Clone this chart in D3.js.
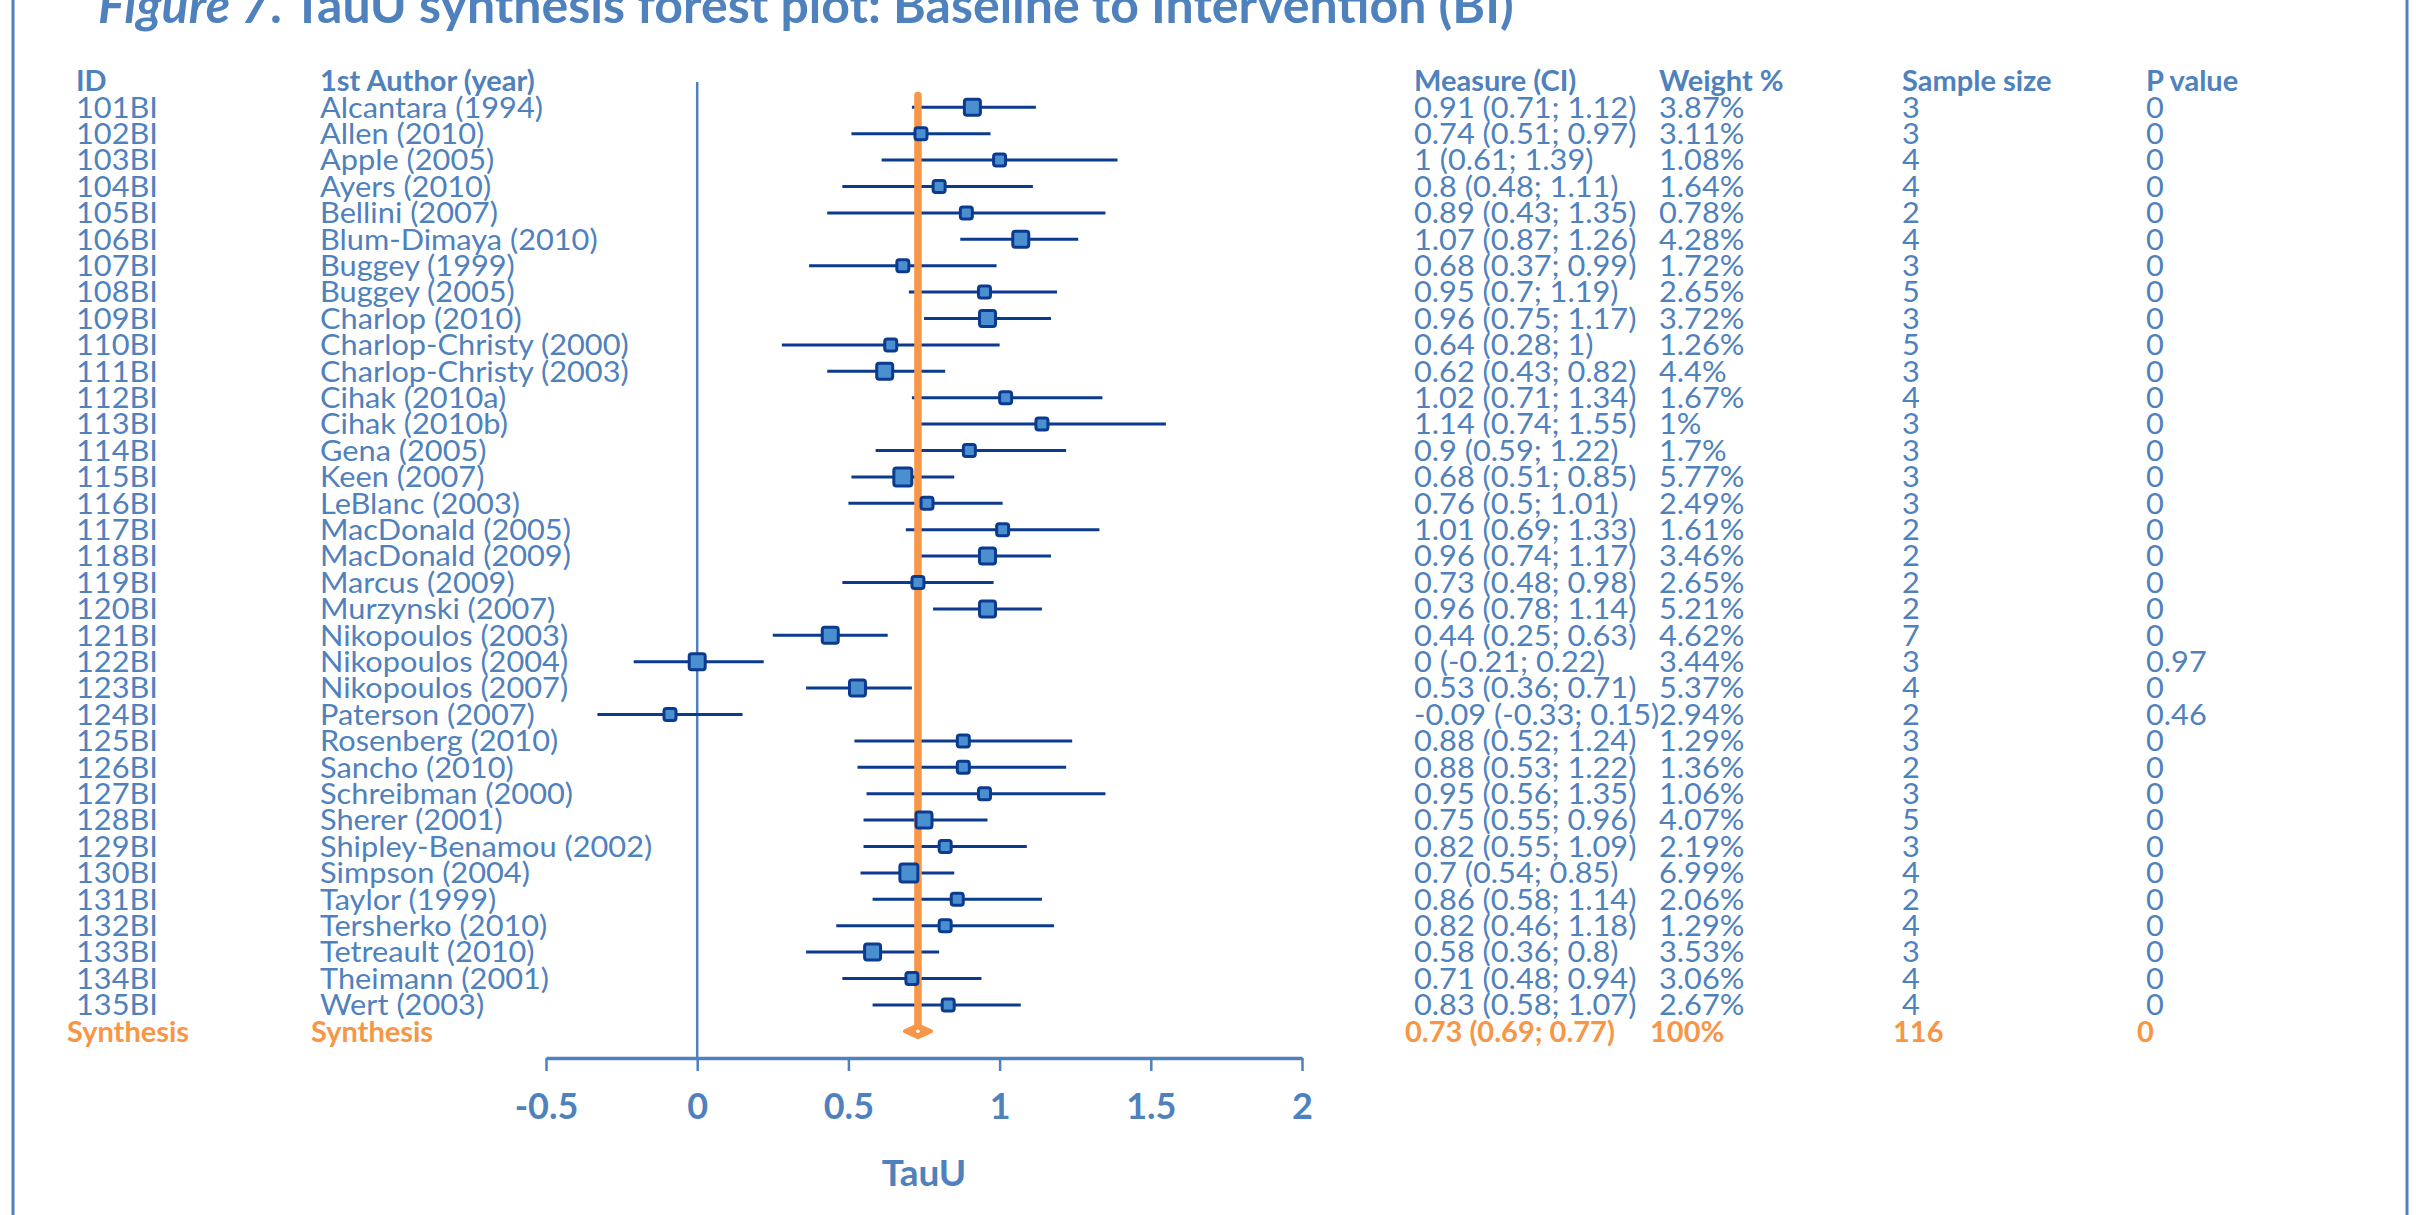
<!DOCTYPE html>
<html><head><meta charset="utf-8">
<script src="https://cdn.jsdelivr.net/npm/d3@7"></script>
<style>
html,body{margin:0;padding:0;background:#fff;}
svg{display:block;}
text{font-family:Lato,"Open Sans",sans-serif;}
</style></head>
<body>
<script>
// ---------- DATA ----------
const ids = ["101BI","102BI","103BI","104BI","105BI","106BI","107BI","108BI","109BI","110BI","111BI","112BI","113BI","114BI","115BI","116BI","117BI","118BI","119BI","120BI","121BI","122BI","123BI","124BI","125BI","126BI","127BI","128BI","129BI","130BI","131BI","132BI","133BI","134BI","135BI"];
const authors = ["Alcantara (1994)","Allen (2010)","Apple (2005)","Ayers (2010)","Bellini (2007)","Blum-Dimaya (2010)","Buggey (1999)","Buggey (2005)","Charlop (2010)","Charlop-Christy (2000)","Charlop-Christy (2003)","Cihak (2010a)","Cihak (2010b)","Gena (2005)","Keen (2007)","LeBlanc (2003)","MacDonald (2005)","MacDonald (2009)","Marcus (2009)","Murzynski (2007)","Nikopoulos (2003)","Nikopoulos (2004)","Nikopoulos (2007)","Paterson (2007)","Rosenberg (2010)","Sancho (2010)","Schreibman (2000)","Sherer (2001)","Shipley-Benamou (2002)","Simpson (2004)","Taylor (1999)","Tersherko (2010)","Tetreault (2010)","Theimann (2001)","Wert (2003)"];
const measures = [0.91,0.74,1,0.8,0.89,1.07,0.68,0.95,0.96,0.64,0.62,1.02,1.14,0.9,0.68,0.76,1.01,0.96,0.73,0.96,0.44,0,0.53,-0.09,0.88,0.88,0.95,0.75,0.82,0.7,0.86,0.82,0.58,0.71,0.83];
const lows =     [0.71,0.51,0.61,0.48,0.43,0.87,0.37,0.7,0.75,0.28,0.43,0.71,0.74,0.59,0.51,0.5,0.69,0.74,0.48,0.78,0.25,-0.21,0.36,-0.33,0.52,0.53,0.56,0.55,0.55,0.54,0.58,0.46,0.36,0.48,0.58];
const highs =    [1.12,0.97,1.39,1.11,1.35,1.26,0.99,1.19,1.17,1,0.82,1.34,1.55,1.22,0.85,1.01,1.33,1.17,0.98,1.14,0.63,0.22,0.71,0.15,1.24,1.22,1.35,0.96,1.09,0.85,1.14,1.18,0.8,0.94,1.07];
const weights =  [3.87,3.11,1.08,1.64,0.78,4.28,1.72,2.65,3.72,1.26,4.4,1.67,1,1.7,5.77,2.49,1.61,3.46,2.65,5.21,4.62,3.44,5.37,2.94,1.29,1.36,1.06,4.07,2.19,6.99,2.06,1.29,3.53,3.06,2.67];
const samples =  [3,3,4,4,2,4,3,5,3,5,3,4,3,3,3,3,2,2,2,2,7,3,4,2,3,2,3,5,3,4,2,4,3,4,4];
const pvalues =  [0,0,0,0,0,0,0,0,0,0,0,0,0,0,0,0,0,0,0,0,0,0.97,0,0.46,0,0,0,0,0,0,0,0,0,0,0];
const headers = ["ID","1st Author (year)","Measure (CI)","Weight %","Sample size","P value"];
const synthLabel = "Synthesis";
const synthMeasure = 0.73, synthLow = 0.69, synthHigh = 0.77, synthWeight = 100, synthSample = 116, synthP = 0;
const xTicks = [-0.5, 0, 0.5, 1, 1.5, 2];
const xTitle = "TauU";
const titleItalic = "Figure 7";
const titleRest = ". TauU synthesis forest plot: Baseline to Intervention (BI)";

// ---------- STYLE / LAYOUT ----------
const W = 2416, H = 1215;
const BLUE = "#4F81BD", NAVY = "#0B3A8F", FILL = "#4A90D0", ORANGE = "#F79646";
const FS = 29, SX = 1.06;
const colX = [76, 320, 1414, 1659, 1902, 2146];
const synthShift = -9;

const svg = d3.select("body").append("svg").attr("width", W).attr("height", H);

const x = d3.scaleLinear().domain([-0.5, 2]).range([546, 1302]);
const y = d3.scaleLinear().domain([0, 35]).range([107.3, 1031.3]);
const size = d3.scaleThreshold().domain([3.3, 5.5]).range([15, 19, 21]);

// frame
svg.append("line").attr("x1", 13).attr("x2", 13).attr("y1", 0).attr("y2", H).attr("stroke", BLUE).attr("stroke-width", 3);
svg.append("line").attr("x1", 2407).attr("x2", 2407).attr("y1", 0).attr("y2", H).attr("stroke", BLUE).attr("stroke-width", 3);

// title
const t = svg.append("text").attr("x", 98).attr("y", 23).attr("fill", BLUE)
  .attr("font-size", 50).attr("font-weight", "bold");
t.append("tspan").attr("font-style", "italic").text(titleItalic);
t.append("tspan").text(titleRest);

function txt(g, s, px, py, opts = {}) {
  return g.append("text")
    .attr("transform", `translate(${px},${py}) scale(${opts.bold ? 1 : SX},1)`)
    .attr("fill", opts.fill || BLUE)
    .attr("font-size", opts.fs || FS)
    .attr("font-weight", opts.bold ? "bold" : "normal")
    .text(s);
}

const textG = svg.append("g");
const base = 10.3;
// headers
headers.forEach((h, i) => txt(textG, h, colX[i], y(-1) + base, { bold: true }));
// rows
ids.forEach((id, i) => {
  const yy = y(i) + base;
  txt(textG, id, colX[0], yy);
  txt(textG, authors[i], colX[1], yy);
  txt(textG, `${measures[i]} (${lows[i]}; ${highs[i]})`, colX[2], yy);
  txt(textG, `${weights[i]}%`, colX[3], yy);
  txt(textG, `${samples[i]}`, colX[4], yy);
  txt(textG, `${pvalues[i]}`, colX[5], yy);
});
// synthesis row
{
  const yy = y(ids.length) + base;
  const o = { bold: true, fill: ORANGE };
  txt(textG, synthLabel, colX[0] + synthShift, yy, o);
  txt(textG, synthLabel, colX[1] + synthShift, yy, o);
  txt(textG, `${synthMeasure} (${synthLow}; ${synthHigh})`, colX[2] + synthShift, yy, o);
  txt(textG, `${synthWeight}%`, colX[3] + synthShift, yy, o);
  txt(textG, `${synthSample}`, colX[4] + synthShift, yy, o);
  txt(textG, `${synthP}`, colX[5] + synthShift, yy, o);
}

// zero line
svg.append("line").attr("x1", x(0)).attr("x2", x(0)).attr("y1", 82).attr("y2", 1058)
  .attr("stroke", BLUE).attr("stroke-width", 2.5);

// CI lines
svg.append("g").selectAll("line").data(ids).join("line")
  .attr("x1", (d, i) => x(lows[i])).attr("x2", (d, i) => x(highs[i]))
  .attr("y1", (d, i) => y(i)).attr("y2", (d, i) => y(i))
  .attr("stroke", NAVY).attr("stroke-width", 3);

// synthesis vertical line
svg.append("line").attr("x1", x(synthMeasure)).attr("x2", x(synthMeasure))
  .attr("y1", 95.5).attr("y2", y(ids.length))
  .attr("stroke", ORANGE).attr("stroke-width", 7.5).attr("stroke-linecap", "round");

// markers
svg.append("g").selectAll("rect").data(ids).join("rect")
  .attr("x", (d, i) => x(measures[i]) - (size(weights[i]) - 3) / 2)
  .attr("y", (d, i) => y(i) - (size(weights[i]) - 3) / 2)
  .attr("width", (d, i) => size(weights[i]) - 3)
  .attr("height", (d, i) => size(weights[i]) - 3)
  .attr("rx", 2.5)
  .attr("fill", FILL).attr("stroke", NAVY).attr("stroke-width", 3);

// synthesis diamond
{
  const cy = y(ids.length), cx = x(synthMeasure);
  const l = x(synthLow) - 1, r = x(synthHigh) + 1, hh = 6;
  svg.append("path").attr("d", `M${l},${cy}L${cx},${cy - hh}L${r},${cy}L${cx},${cy + hh}Z`)
    .attr("fill", ORANGE).attr("stroke", ORANGE).attr("stroke-width", 4).attr("stroke-linejoin", "round");
  svg.append("circle").attr("cx", cx).attr("cy", cy).attr("r", 1.8).attr("fill", "#fff");
}

// axis
const ax = svg.append("g").attr("transform", "translate(0,1058)")
  .call(d3.axisBottom(x).tickValues(xTicks).tickFormat(d => String(d)).tickSize(13).tickSizeOuter(0).tickPadding(22));
ax.select(".domain").attr("stroke", BLUE).attr("stroke-width", 3.5);
ax.selectAll(".tick line").attr("stroke", BLUE).attr("stroke-width", 2.5);
ax.selectAll(".tick text").attr("fill", BLUE).attr("font-size", 36).attr("font-weight", "bold")
  .attr("font-family", "Lato, sans-serif");

svg.append("text").attr("x", (x.range()[0] + x.range()[1]) / 2).attr("y", 1186)
  .attr("text-anchor", "middle").attr("fill", BLUE).attr("font-size", 37).attr("font-weight", "bold")
  .text(xTitle);
</script>
</body></html>
